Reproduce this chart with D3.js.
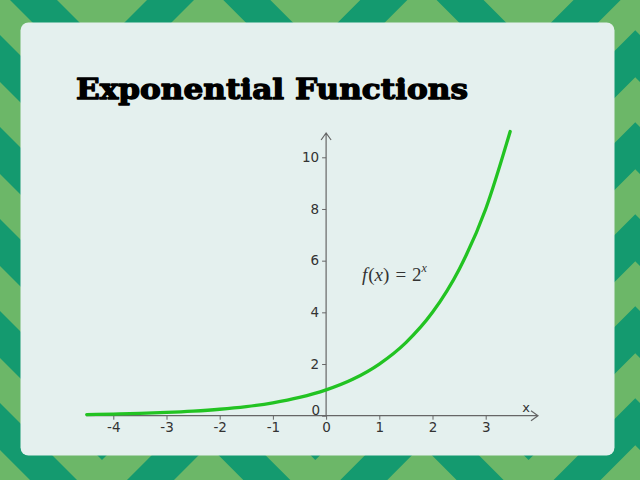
<!DOCTYPE html>
<html>
<head>
<meta charset="utf-8">
<script src="https://cdn.jsdelivr.net/npm/d3@7"></script>
<style>
  html, body { margin: 0; padding: 0; background: #6cb768; }
  svg { display: block; }
</style>
</head>
<body>
<svg width="640" height="480"></svg>
<script>
// values (the curve f(x) = 2^x)
const xValues = [-4.5, -4, -3.5, -3, -2.5, -2, -1.5, -1, -0.5, 0, 0.5, 1, 1.5, 2, 2.5, 3, 3.46];
const yValues = [0.045, 0.063, 0.088, 0.125, 0.177, 0.25, 0.354, 0.5, 0.707, 1, 1.41, 2, 2.83, 4, 5.66, 8, 11];
const xTicks = [-4, -3, -2, -1, 0, 1, 2, 3];
const yTicks = [0, 2, 4, 6, 8, 10];
const titleText = 'Exponential Functions';

const points = xValues.map((v, i) => ({ x: v, y: yValues[i] }));

const svg = d3.select('svg');

// background chevrons
const P = 213.3, T = 92, D = 47, base = 460, vx0 = 102;
const bg = svg.append('g');
bg.append('rect').attr('width', 640).attr('height', 480).attr('fill', '#6cb768');
const verts = d3.range(-4, 10).map(k => ({ x: vx0 + k * P / 2, d: (k % 2 === 0) ? 0 : P / 2 }));
bg.selectAll('.band')
  .data(d3.range(-8, 3))
  .enter()
  .append('path')
  .classed('band', true)
  .attr('fill', '#149a6f')
  .attr('d', n => {
    const lower = verts.map(v => [v.x, base + n * T - Math.abs(v.d)]);
    const upper = lower.slice().reverse().map(p => [p[0], p[1] - D]);
    return 'M' + lower.concat(upper).map(p => p.join(',')).join('L') + 'Z';
  });

// panel
svg.append('rect')
  .attr('x', 20.5).attr('y', 22.5)
  .attr('width', 594).attr('height', 433)
  .attr('rx', 8)
  .attr('fill', '#e4f0ee');

// title
svg.append('text')
  .attr('x', 76).attr('y', 99)
  .attr('textLength', 392)
  .attr('lengthAdjust', 'spacingAndGlyphs')
  .style('font-family', '"DejaVu Serif", serif')
  .style('font-weight', 'bold')
  .style('font-size', '28px')
  .style('stroke', '#000')
  .style('stroke-width', '1.3px')
  .style('stroke-linejoin', 'round')
  .attr('fill', '#000')
  .text(titleText);

// scales
const xScale = d3.scaleLinear().domain([-4, 3]).range([113.3, 485.7]);
const yScale = d3.scaleLinear().domain([0, 10]).range([415.7, 157.3]);

const axisColor = '#666';
const plain = d => String(d);

// x axis
const gx = svg.append('g')
  .attr('transform', `translate(0,${yScale(0)})`)
  .call(d3.axisBottom(xScale).tickValues(xTicks).tickSize(4).tickFormat(plain));
gx.select('.domain').remove();

// y axis
const gy = svg.append('g')
  .attr('transform', `translate(${xScale(0)},0)`)
  .call(d3.axisLeft(yScale).tickValues(yTicks).tickSize(4).tickFormat(plain));
gy.select('.domain').remove();
gy.selectAll('.tick').filter(d => d === 0).select('text').attr('dy', '-0.12em').attr('x', -6);

[gx, gy].forEach(g => {
  g.attr('font-size', null).attr('font-family', null);
  g.selectAll('.tick line').attr('stroke', axisColor);
  g.selectAll('.tick text')
    .attr('fill', '#333')
    .style('font-family', '"DejaVu Sans", sans-serif')
    .style('font-size', '13.5px');
});

// axis lines with open arrowheads
const xEnd = 538, yEnd = 133;
svg.append('path')
  .attr('d', `M86,${yScale(0)}H${xEnd}M${xEnd - 7},${yScale(0) - 5}L${xEnd},${yScale(0)}L${xEnd - 7},${yScale(0) + 5}`)
  .attr('fill', 'none').attr('stroke', axisColor).attr('stroke-width', 1.2);
svg.append('path')
  .attr('d', `M${xScale(0)},${yScale(0)}V${yEnd}M${xScale(0) - 5},${yEnd + 7}L${xScale(0)},${yEnd}L${xScale(0) + 5},${yEnd + 7}`)
  .attr('fill', 'none').attr('stroke', axisColor).attr('stroke-width', 1.2);

svg.append('text')
  .attr('x', 526).attr('y', 412)
  .attr('text-anchor', 'middle')
  .attr('fill', '#333')
  .style('font-family', '"DejaVu Sans", sans-serif')
  .style('font-size', '13px')
  .text('x');

// curve
const line = d3.line()
  .x(d => xScale(d.x))
  .y(d => yScale(d.y))
  .curve(d3.curveMonotoneX);

svg.append('path')
  .datum(points)
  .attr('d', line)
  .attr('fill', 'none')
  .attr('stroke', '#22c322')
  .attr('stroke-width', 3.3)
  .attr('stroke-linecap', 'round');

// formula label
const f = svg.append('text')
  .attr('x', 362).attr('y', 281)
  .attr('fill', '#333')
  .style('font-family', '"Liberation Serif", serif')
  .style('font-size', '19px');
f.append('tspan').style('font-style', 'italic').text('f');
f.append('tspan').attr('dx', 1).text('(');
f.append('tspan').style('font-style', 'italic').text('x');
f.append('tspan').text(')');
f.append('tspan').attr('dx', 6).text('=');
f.append('tspan').attr('dx', 6).text('2');
f.append('tspan').attr('dy', -9).style('font-style', 'italic').style('font-size', '12px').text('x');
</script>
</body>
</html>
